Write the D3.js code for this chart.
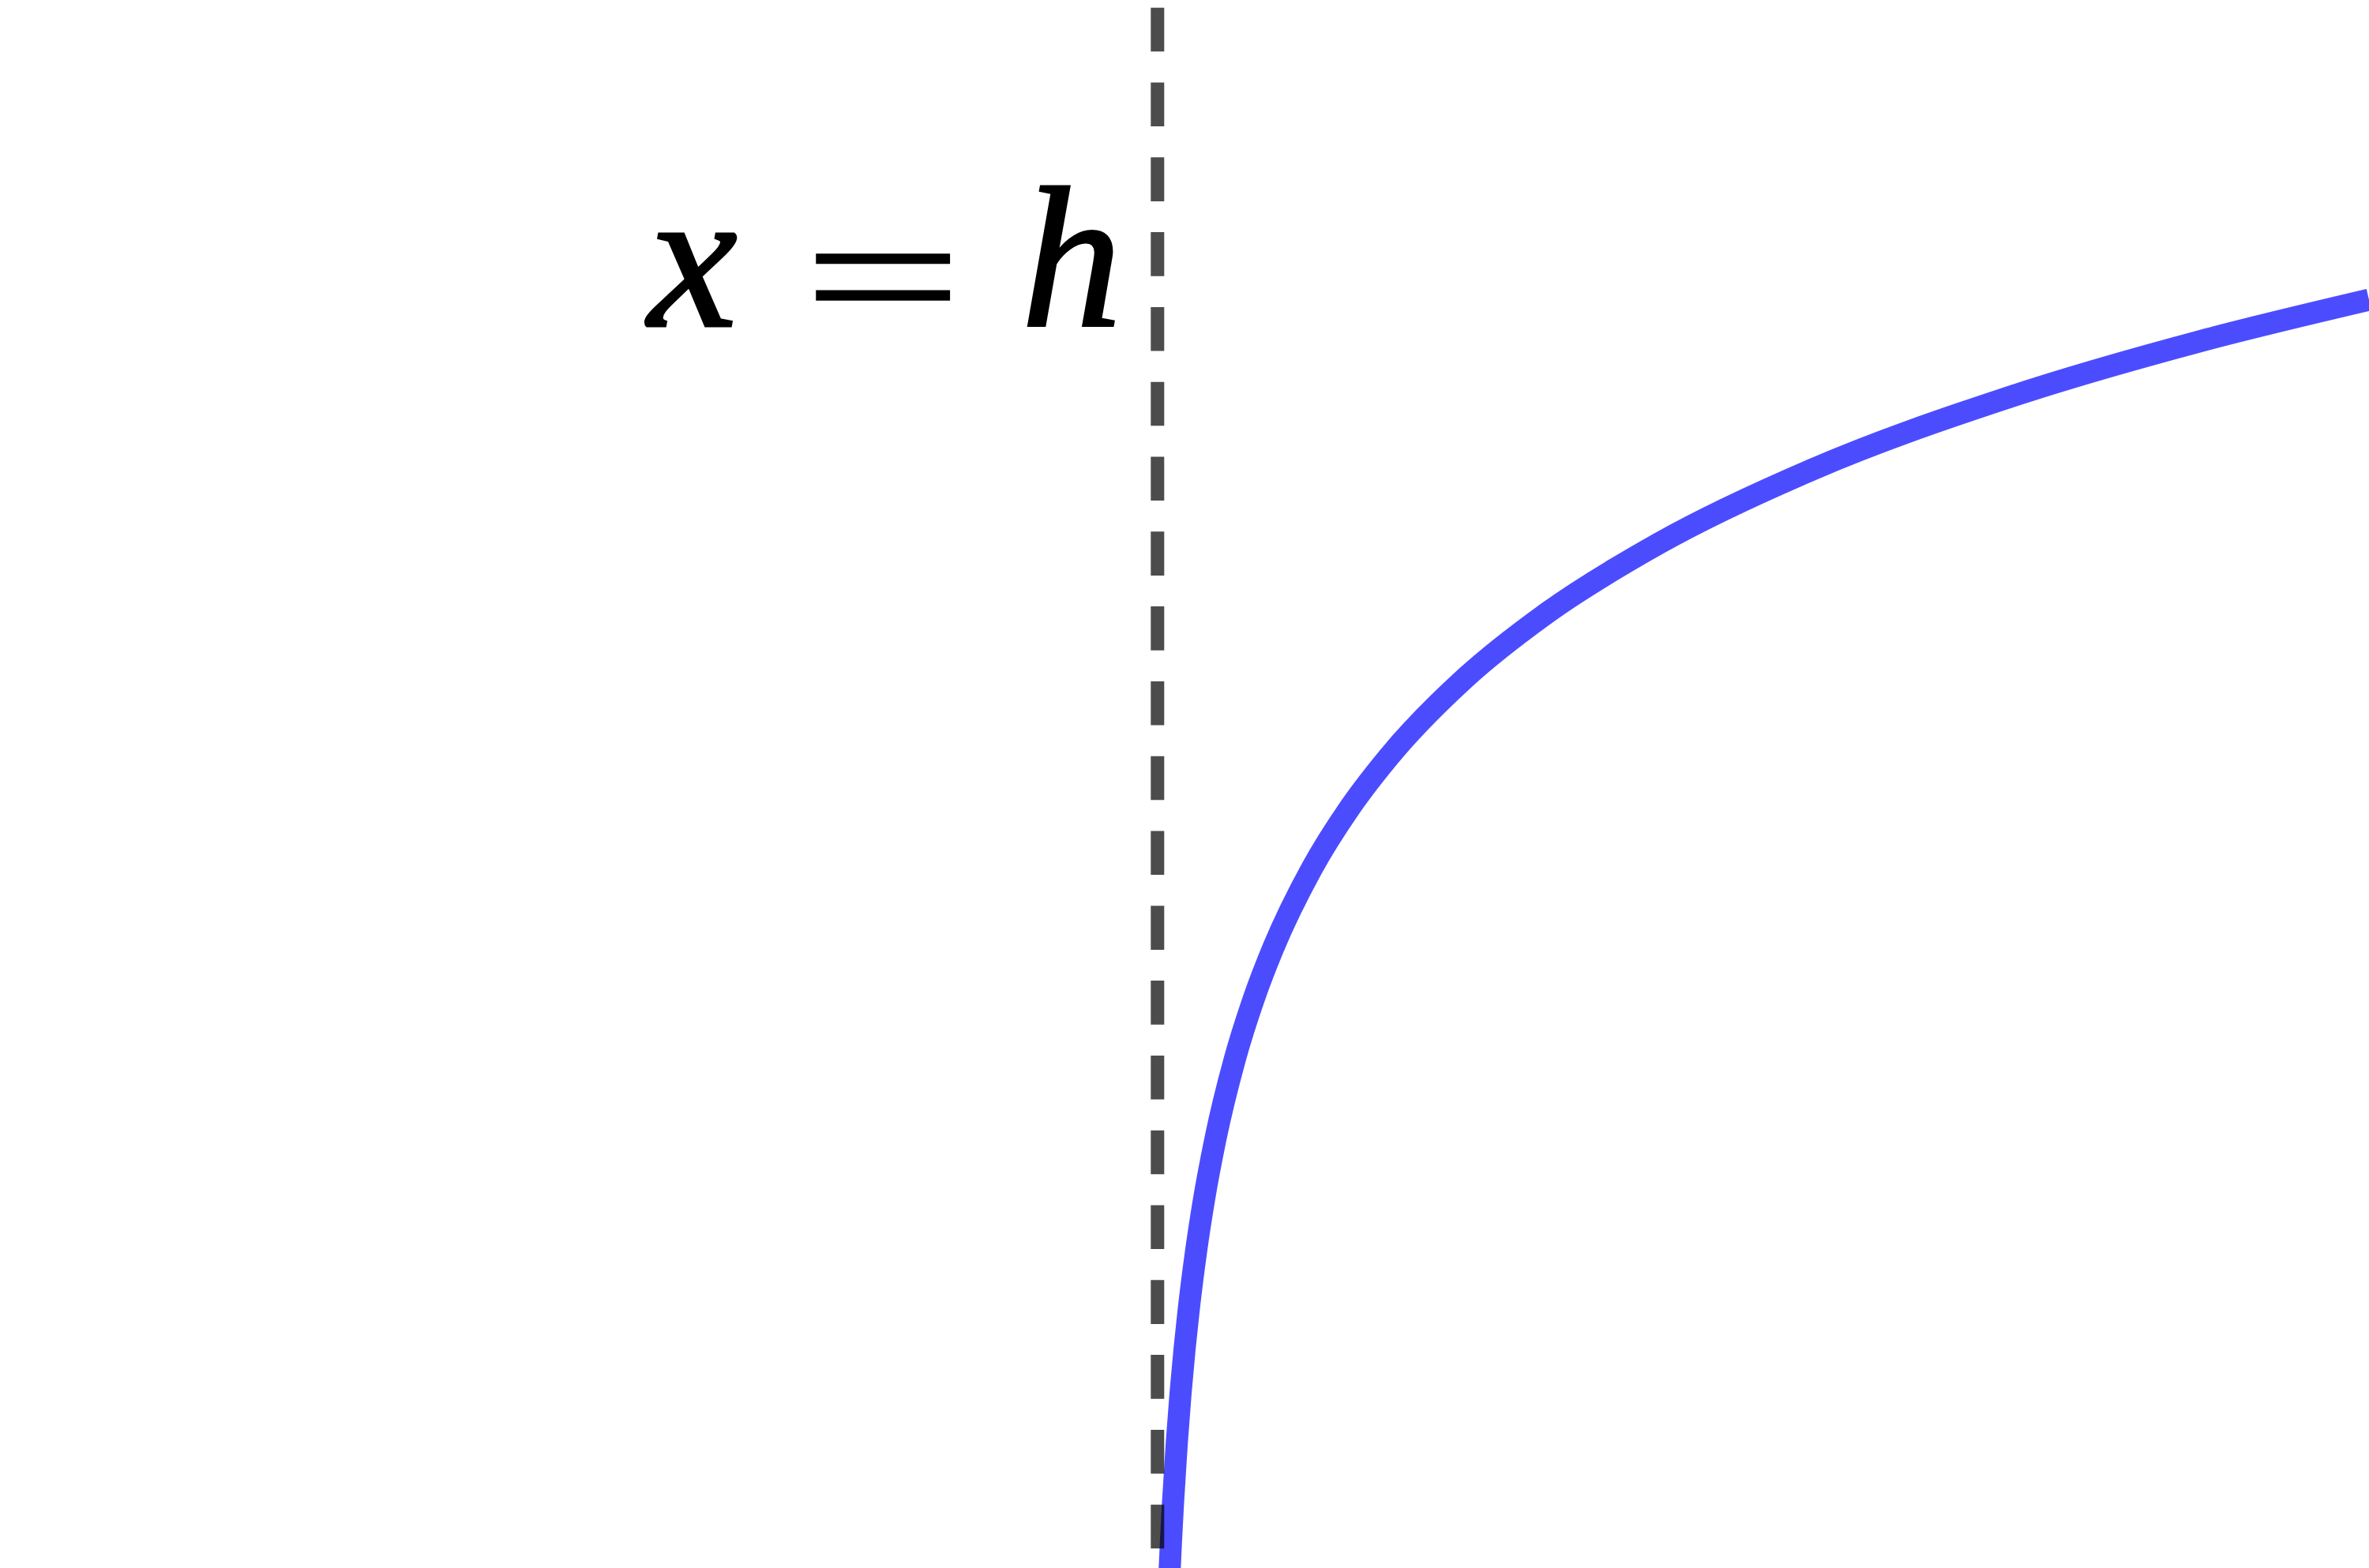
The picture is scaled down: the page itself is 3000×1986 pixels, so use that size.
<!DOCTYPE html>
<html>
<head>
<meta charset="utf-8">
<script src="https://cdn.jsdelivr.net/npm/d3@7"></script>
<style>
  html, body { margin: 0; padding: 0; background: #ffffff; overflow: hidden; }
</style>
</head>
<body>
<div id="chart"></div>
<script>
// curve points (x, y in plot units)
var curveX = [3.031, 3.035, 3.04, 3.05, 3.06, 3.07, 3.08, 3.10, 3.12, 3.15, 3.20, 3.25, 3.30, 3.40,
              3.50, 3.60, 3.80, 4.00, 4.30, 4.70, 5.20, 5.70, 6.14];
var curveY = [-3.474, -3.352, -3.219, -2.996, -2.813, -2.659, -2.526, -2.303, -2.120, -1.897, -1.609, -1.386, -1.204, -0.916,
              -0.693, -0.511, -0.223, 0.0, 0.262, 0.531, 0.788, 0.993, 1.144];

// vertical asymptote
var asymptoteX = [3];
var labelParts = ['x', '=', 'h'];

var width = 3000;
var height = 1986;

var col_blue = '#0000ff';
var col_black = '#000000';

var xScale = d3.scaleLinear()
    .domain([0, 6.14])
    .range([0, width]);

var yScale = d3.scaleLinear()
    .domain([-3.45, 2.23])
    .range([height, 0]);

var svg = d3.select('#chart')
    .append('svg')
    .attr('width', width)
    .attr('height', height)
    .style('display', 'block')
    .style('background', '#ffffff');

var points = curveX.map(function(d, i) { return [d, curveY[i]]; });

var line = d3.line()
    .x(function(d) { return xScale(d[0]); })
    .y(function(d) { return yScale(d[1]); })
    .curve(d3.curveMonotoneX);

svg.append('path')
    .datum(points)
    .attr('d', line)
    .attr('fill', 'none')
    .attr('stroke', col_blue)
    .attr('stroke-opacity', 0.7)
    .attr('stroke-width', 28);

svg.selectAll('.asymptote')
    .data(asymptoteX)
    .enter().append('line')
    .classed('asymptote', true)
    .attr('x1', function(d) { return xScale(d); })
    .attr('x2', function(d) { return xScale(d); })
    .attr('y1', 9.7)
    .attr('y2', height + 40)
    .attr('stroke', col_black)
    .attr('stroke-opacity', 0.7)
    .attr('stroke-width', 17)
    .attr('stroke-dasharray', '55.6,39.2');

// label "x = h" (the = sign is stretched a bit to look like the TeX one)
var labelCenters = [877, 1118, 1357];
svg.selectAll('.label')
    .data(labelParts)
    .enter().append('text')
    .classed('label', true)
    .attr('transform', function(d, i) {
        if (d === '=') return 'translate(' + labelCenters[i] + ',428) scale(1.24,0.8)';
        return 'translate(' + labelCenters[i] + ',413)';
    })
    .attr('text-anchor', 'middle')
    .style('font-family', '"Liberation Serif", "DejaVu Serif", serif')
    .style('font-style', function(d) { return d === '=' ? 'normal' : 'italic'; })
    .style('font-size', function(d) { return d === '=' ? '290px' : '255px'; })
    .style('fill', col_black)
    .style('stroke', col_black)
    .style('stroke-width', function(d) { return d === '=' ? 2 : 3; })
    .text(function(d) { return d; });
</script>
</body>
</html>
